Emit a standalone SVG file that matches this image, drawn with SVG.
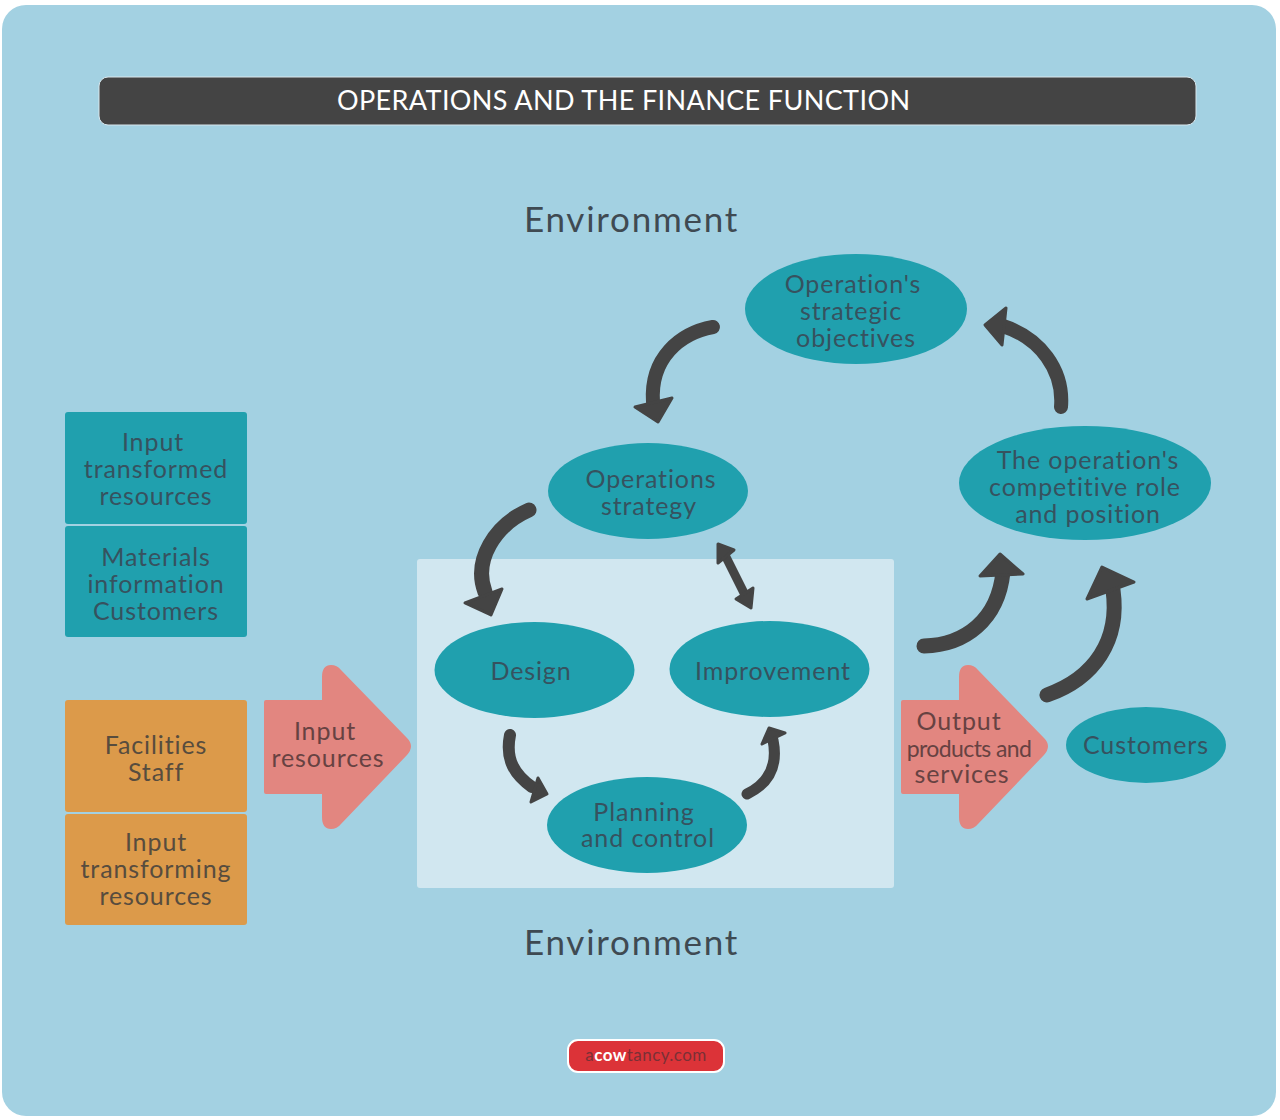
<svg xmlns="http://www.w3.org/2000/svg" width="1280" height="1120" viewBox="0 0 1280 1120">
<style>
text{font-family:"Lato","Open Sans","Liberation Sans",sans-serif;text-anchor:middle;font-size:25px;letter-spacing:.9px;fill:#404a55}
.teal{fill:#20a0ae}
.pink{fill:#e28680}
.orange{fill:#dc9a4a}
.on-teal{fill:#36525f}
.on-pink{fill:#674242}
.on-orange{fill:#574c3e}
.env{font-size:35px;letter-spacing:1.75px;fill:#3f4a52}
.line{fill:none;stroke:#444;stroke-linecap:round}
.head{fill:#444;stroke:#444;stroke-width:3;stroke-linejoin:round}
</style>
<rect width="1280" height="1120" fill="#fff"/>
<rect x="2" y="5" width="1274" height="1111" rx="24" fill="#a3d1e2"/>
<g id="title">
<rect x="99" y="77" width="1097" height="48" rx="9" fill="#444" stroke="#d8e6ec" stroke-width="1"/>
<text x="623.500" y="110" style="font-size:27px;letter-spacing:0;fill:#fff" textLength="573">OPERATIONS AND THE FINANCE FUNCTION</text>
</g>
<text class="env" x="631.500" y="232">Environment</text>
<text class="env" x="631.500" y="955">Environment</text>
<rect id="process-box" x="417" y="559" width="477" height="329" rx="3" fill="#d1e7f0"/>
<g id="input-transformed">
<rect class="teal" x="65" y="412" width="182" height="112" rx="3"/>
<text class="on-teal" x="153" y="451">Input</text><text class="on-teal" x="156" y="478">transformed</text><text class="on-teal" x="156" y="505">resources</text>
</g>
<g id="materials">
<rect class="teal" x="65" y="526" width="182" height="111" rx="3"/>
<text class="on-teal" x="156" y="566">Materials</text><text class="on-teal" x="156" y="593">information</text><text class="on-teal" x="156" y="620">Customers</text>
</g>
<g id="facilities">
<rect class="orange" x="65" y="700" width="182" height="112" rx="3"/>
<text class="on-orange" x="156" y="754">Facilities</text><text class="on-orange" x="156" y="781">Staff</text>
</g>
<g id="input-transforming">
<rect class="orange" x="65" y="814" width="182" height="111" rx="3"/>
<text class="on-orange" x="156" y="851">Input</text><text class="on-orange" x="156" y="878">transforming</text><text class="on-orange" x="156" y="905">resources</text>
</g>
<g id="input-resources">
<path class="pink" d="M266 700H322V677Q322 665 331 665Q337 665 341 670L407 738Q415 746 407 755L341 824Q337 829 331 829Q322 829 322 817V794H266Q264 794 264 792V702Q264 700 266 700Z"/>
<text class="on-pink" x="325" y="740">Input</text><text class="on-pink" x="328" y="767">resources</text>
</g>
<g id="output-products">
<path class="pink" d="M903 700H959V677Q959 665 968 665Q974 665 978 670L1044 738Q1052 746 1044 755L978 824Q974 829 968 829Q959 829 959 817V794H903Q901 794 901 792V702Q901 700 903 700Z"/>
<text class="on-pink" x="959" y="730">Output</text><text class="on-pink" x="969" y="757" style="font-size:23px;letter-spacing:-.6px">products and</text><text class="on-pink" x="962" y="783">services</text>
</g>
<g id="objectives">
<ellipse class="teal" cx="856" cy="309" rx="111" ry="55"/>
<text class="on-teal" x="853" y="293">Operation's</text><text class="on-teal" x="851" y="320">strategic</text><text class="on-teal" x="856" y="347">objectives</text>
</g>
<g id="competitive">
<ellipse class="teal" cx="1085" cy="483" rx="126" ry="57"/>
<text class="on-teal" x="1088" y="469">The operation's</text><text class="on-teal" x="1085" y="496">competitive role</text><text class="on-teal" x="1088" y="523">and position</text>
</g>
<g id="strategy">
<ellipse class="teal" cx="648" cy="491" rx="100" ry="48"/>
<text class="on-teal" x="651" y="488">Operations</text><text class="on-teal" x="649" y="515">strategy</text>
</g>
<g id="design">
<ellipse class="teal" cx="534.500" cy="670" rx="100" ry="48"/>
<text class="on-teal" x="531" y="680">Design</text>
</g>
<g id="improvement">
<ellipse class="teal" cx="769.500" cy="669" rx="100" ry="48"/>
<text class="on-teal" x="773" y="680">Improvement</text>
</g>
<g id="planning">
<ellipse class="teal" cx="647" cy="825" rx="100" ry="48"/>
<text class="on-teal" x="644" y="821">Planning</text><text class="on-teal" x="648" y="847">and control</text>
</g>
<g id="customers">
<ellipse class="teal" cx="1146" cy="745" rx="80" ry="38"/>
<text class="on-teal" x="1146" y="754">Customers</text>
</g>
<g id="connectors">
<path class="line" stroke-width="14" d="M713 327C680 333 650 358 653 402"/>
<polygon class="head" points="635,407 672,398 658,422"/>
<path class="line" stroke-width="14" d="M1061 407C1064 370 1040 338 1003 326"/>
<polygon class="head" points="985,325 1006,308 1002,345"/>
<path class="line" stroke-width="15" d="M529 510C495 525 473 560 485 592"/>
<polygon class="head" points="465,603 502,589 491,615"/>
<path class="line" stroke-width="9" d="M724 553L746 597"/>
<polygon class="head" points="718,544 734,550 718,563"/>
<polygon class="head" points="751,608 753,588 736,599"/>
<path class="line" stroke-width="12" d="M510 735C505 760 515 775 532 787"/>
<polygon class="head" points="538,778 547,794 531,802"/>
<path class="line" stroke-width="11" d="M747 794C770 783 778 765 773 740"/>
<polygon class="head" points="769,728 785,733 762,744"/>
<path class="line" stroke-width="15" d="M924 646C965 645 998 620 1003 572"/>
<polygon class="head" points="1000,554 1023,574 980,576"/>
<path class="line" stroke-width="15" d="M1047 695C1095 678 1120 640 1113 590"/>
<polygon class="head" points="1102,567 1134,582 1087,599"/>
</g>
<g id="logo">
<rect x="568" y="1040" width="156" height="32" rx="10" fill="#dc3338" stroke="#fff" stroke-width="2"/>
<text x="646" y="1061" style="font-size:17px;letter-spacing:.45px;fill:#7a3036">a<tspan style="font-weight:700;fill:#fff">cow</tspan>tancy.com</text>
</g>
</svg>
